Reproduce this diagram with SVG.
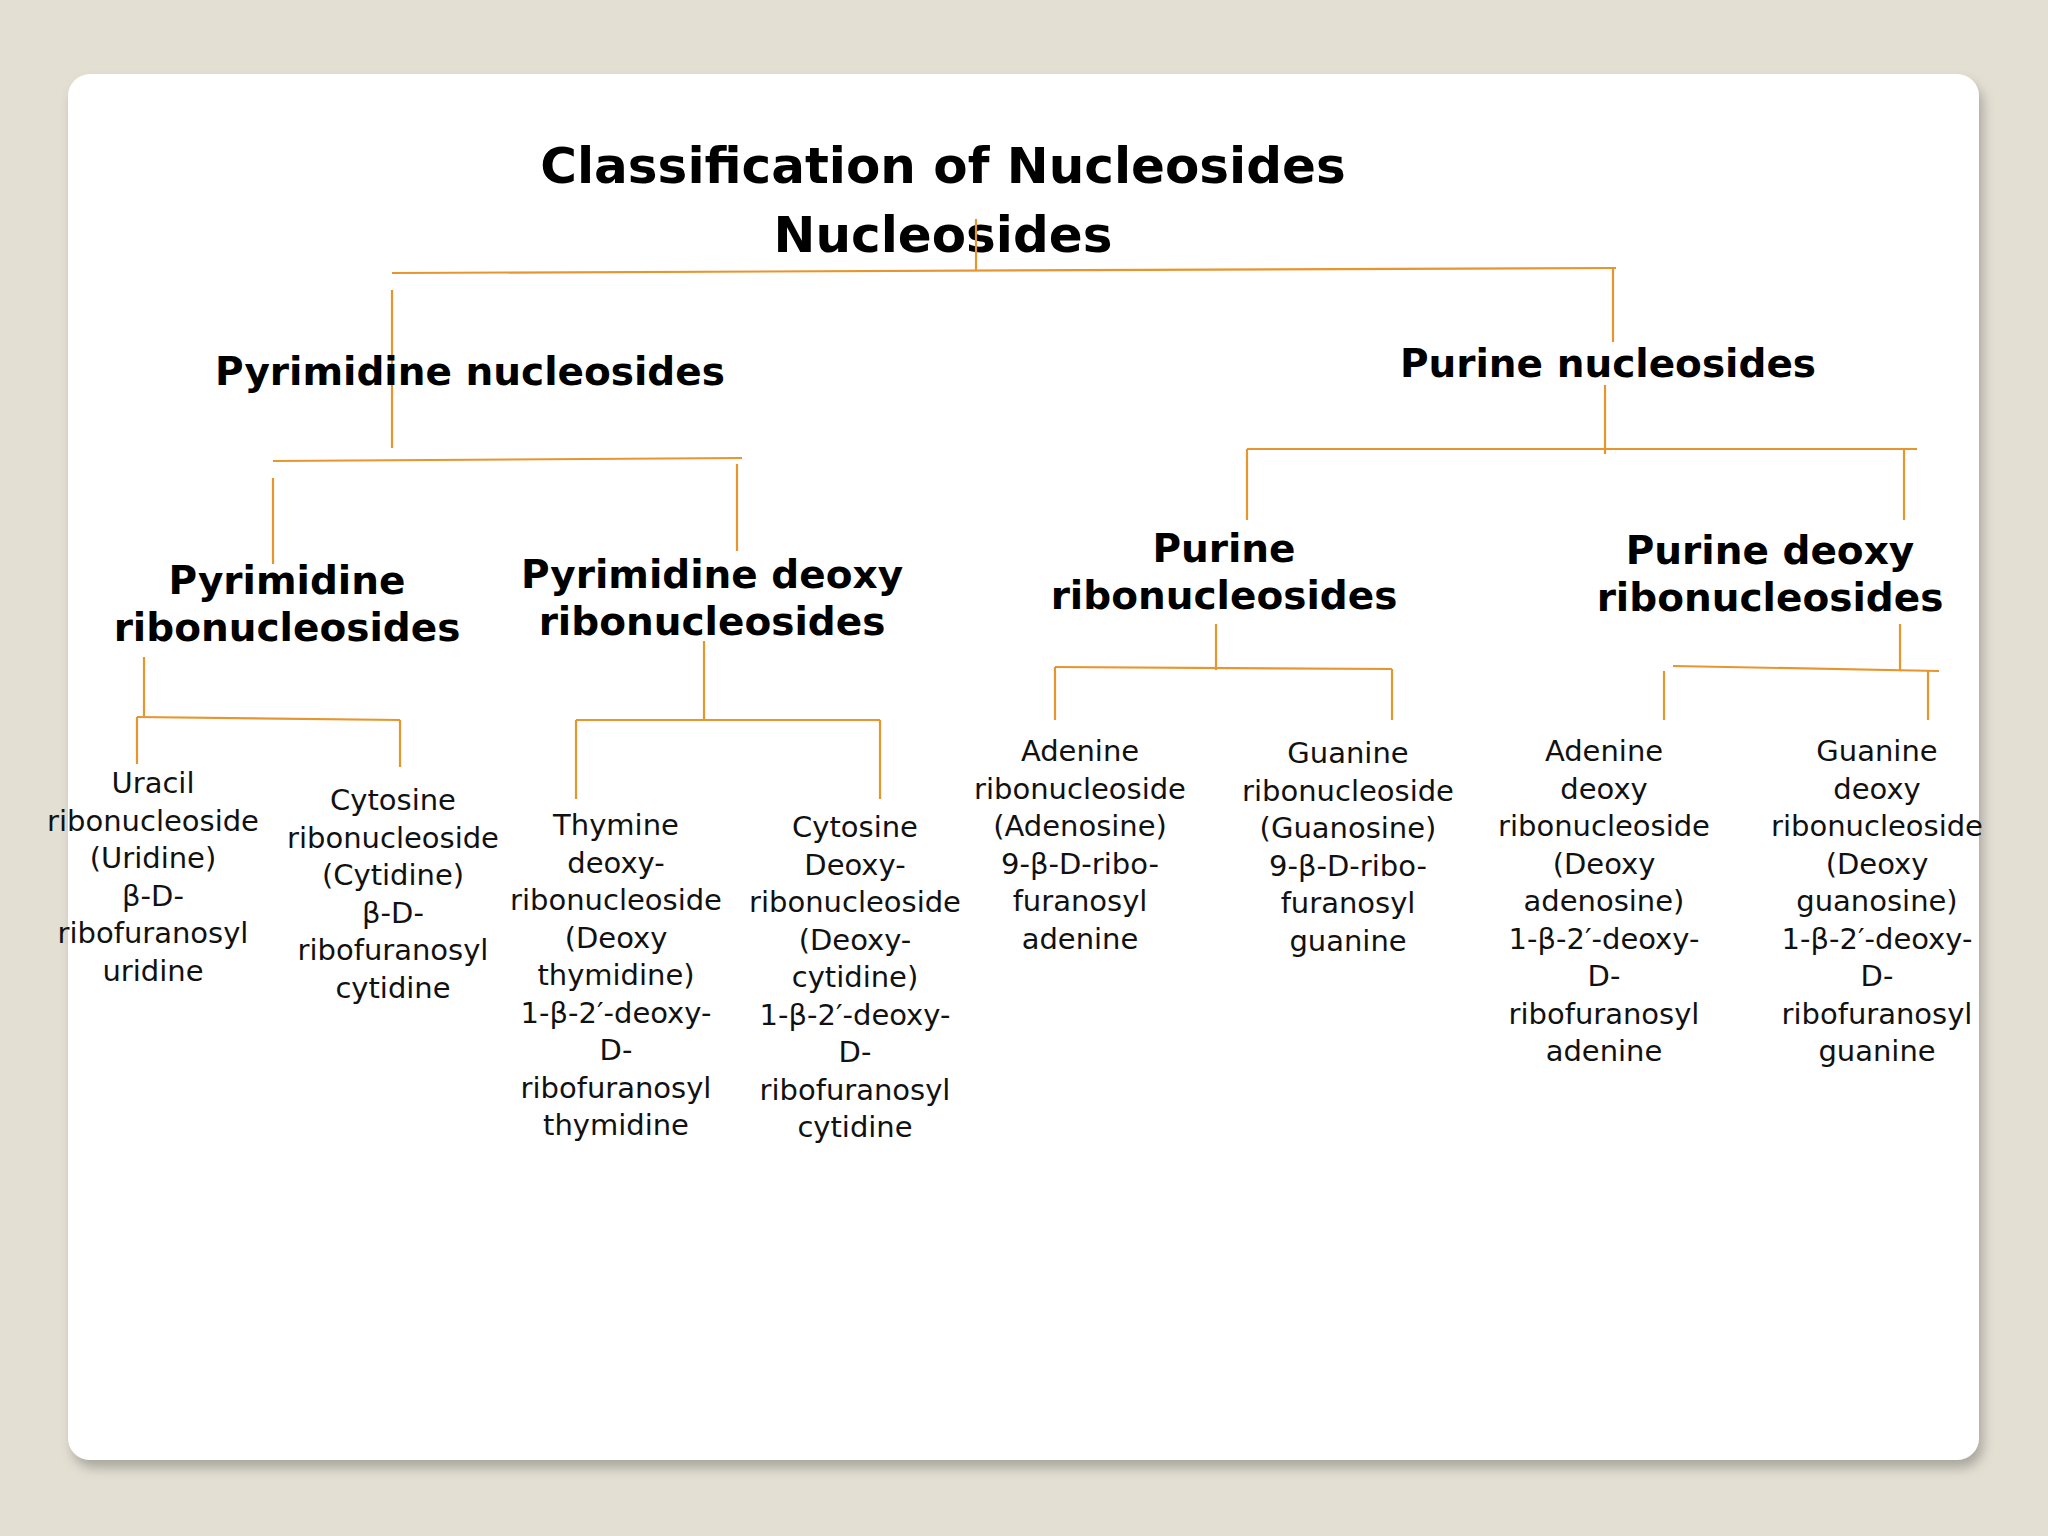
<svg xmlns="http://www.w3.org/2000/svg" width="2048" height="1536" viewBox="0 0 2048 1536">
<defs>
<style>
.t{font-family:"DejaVu Sans",Verdana,sans-serif;font-weight:bold;font-size:50px;fill:#000;text-anchor:middle}
.h{font-family:"DejaVu Sans",Verdana,sans-serif;font-weight:bold;font-size:39px;fill:#000;text-anchor:middle}
.l{font-family:"DejaVu Sans",Verdana,sans-serif;font-size:29px;fill:#111;text-anchor:middle}
.c line{stroke:#E8952E;stroke-width:2.2}
</style>
<filter id="sh" x="-5%" y="-5%" width="110%" height="110%"><feDropShadow dx="4" dy="8" stdDeviation="6" flood-color="#000" flood-opacity="0.25"/></filter>
</defs>
<rect width="2048" height="1536" fill="#E3DFD3"/>
<rect x="68" y="74" width="1911" height="1386" rx="22" fill="#fff" filter="url(#sh)"/>
<g id="title"><text class="t" x="943" y="183">Classification of Nucleosides</text></g>
<g id="root"><text class="t" x="943" y="252">Nucleosides</text></g>
<g class="c" id="connectors">
<line x1="976" y1="219" x2="976" y2="271"/>
<line x1="392" y1="273" x2="1616" y2="268"/>
<line x1="392" y1="290" x2="392" y2="448"/>
<line x1="1613" y1="268" x2="1613" y2="342"/>
<line x1="273" y1="461" x2="742" y2="458"/>
<line x1="273" y1="478" x2="273" y2="564"/>
<line x1="737" y1="464" x2="737" y2="551"/>
<line x1="1605" y1="385" x2="1605" y2="454"/>
<line x1="1247" y1="449" x2="1917" y2="449"/>
<line x1="1247" y1="449" x2="1247" y2="520"/>
<line x1="1904" y1="449" x2="1904" y2="520"/>
<line x1="144" y1="657" x2="144" y2="716"/>
<line x1="137" y1="717" x2="400" y2="720"/>
<line x1="137" y1="717" x2="137" y2="764"/>
<line x1="400" y1="720" x2="400" y2="767"/>
<line x1="704" y1="641" x2="704" y2="720"/>
<line x1="576" y1="720" x2="880" y2="720"/>
<line x1="576" y1="720" x2="576" y2="799"/>
<line x1="880" y1="720" x2="880" y2="799"/>
<line x1="1216" y1="624" x2="1216" y2="670"/>
<line x1="1055" y1="667" x2="1392" y2="669"/>
<line x1="1055" y1="667" x2="1055" y2="720"/>
<line x1="1392" y1="669" x2="1392" y2="720"/>
<line x1="1900" y1="624" x2="1900" y2="671"/>
<line x1="1673" y1="666" x2="1939" y2="671"/>
<line x1="1664" y1="671" x2="1664" y2="720"/>
<line x1="1928" y1="671" x2="1928" y2="720"/>
</g>
<g id="pyr"><text class="h" x="470" y="385">Pyrimidine nucleosides</text></g>
<g id="pur"><text class="h" x="1608" y="377">Purine nucleosides</text></g>
<g id="pyrribo"><text class="h" x="287" y="594">Pyrimidine</text><text class="h" x="287" y="641">ribonucleosides</text></g>
<g id="pyrdeoxy"><text class="h" x="712" y="588">Pyrimidine deoxy</text><text class="h" x="712" y="635">ribonucleosides</text></g>
<g id="purribo"><text class="h" x="1224" y="562">Purine</text><text class="h" x="1224" y="609">ribonucleosides</text></g>
<g id="purdeoxy"><text class="h" x="1770" y="564">Purine deoxy</text><text class="h" x="1770" y="611">ribonucleosides</text></g>
<g id="uridine"><text class="l" x="153" y="793"><tspan x="153">Uracil</tspan><tspan x="153" dy="37.5">ribonucleoside</tspan><tspan x="153" dy="37.5">(Uridine)</tspan><tspan x="153" dy="37.5">β-D-</tspan><tspan x="153" dy="37.5">ribofuranosyl</tspan><tspan x="153" dy="37.5">uridine</tspan></text></g>
<g id="cytidine"><text class="l" x="393" y="810"><tspan x="393">Cytosine</tspan><tspan x="393" dy="37.5">ribonucleoside</tspan><tspan x="393" dy="37.5">(Cytidine)</tspan><tspan x="393" dy="37.5">β-D-</tspan><tspan x="393" dy="37.5">ribofuranosyl</tspan><tspan x="393" dy="37.5">cytidine</tspan></text></g>
<g id="thymidine"><text class="l" x="616" y="835"><tspan x="616">Thymine</tspan><tspan x="616" dy="37.5">deoxy-</tspan><tspan x="616" dy="37.5">ribonucleoside</tspan><tspan x="616" dy="37.5">(Deoxy</tspan><tspan x="616" dy="37.5">thymidine)</tspan><tspan x="616" dy="37.5">1-β-2′-deoxy-</tspan><tspan x="616" dy="37.5">D-</tspan><tspan x="616" dy="37.5">ribofuranosyl</tspan><tspan x="616" dy="37.5">thymidine</tspan></text></g>
<g id="dcytidine"><text class="l" x="855" y="837"><tspan x="855">Cytosine</tspan><tspan x="855" dy="37.5">Deoxy-</tspan><tspan x="855" dy="37.5">ribonucleoside</tspan><tspan x="855" dy="37.5">(Deoxy-</tspan><tspan x="855" dy="37.5">cytidine)</tspan><tspan x="855" dy="37.5">1-β-2′-deoxy-</tspan><tspan x="855" dy="37.5">D-</tspan><tspan x="855" dy="37.5">ribofuranosyl</tspan><tspan x="855" dy="37.5">cytidine</tspan></text></g>
<g id="adenosine"><text class="l" x="1080" y="761"><tspan x="1080">Adenine</tspan><tspan x="1080" dy="37.5">ribonucleoside</tspan><tspan x="1080" dy="37.5">(Adenosine)</tspan><tspan x="1080" dy="37.5">9-β-D-ribo-</tspan><tspan x="1080" dy="37.5">furanosyl</tspan><tspan x="1080" dy="37.5">adenine</tspan></text></g>
<g id="guanosine"><text class="l" x="1348" y="763"><tspan x="1348">Guanine</tspan><tspan x="1348" dy="37.5">ribonucleoside</tspan><tspan x="1348" dy="37.5">(Guanosine)</tspan><tspan x="1348" dy="37.5">9-β-D-ribo-</tspan><tspan x="1348" dy="37.5">furanosyl</tspan><tspan x="1348" dy="37.5">guanine</tspan></text></g>
<g id="dadenosine"><text class="l" x="1604" y="761"><tspan x="1604">Adenine</tspan><tspan x="1604" dy="37.5">deoxy</tspan><tspan x="1604" dy="37.5">ribonucleoside</tspan><tspan x="1604" dy="37.5">(Deoxy</tspan><tspan x="1604" dy="37.5">adenosine)</tspan><tspan x="1604" dy="37.5">1-β-2′-deoxy-</tspan><tspan x="1604" dy="37.5">D-</tspan><tspan x="1604" dy="37.5">ribofuranosyl</tspan><tspan x="1604" dy="37.5">adenine</tspan></text></g>
<g id="dguanosine"><text class="l" x="1877" y="761"><tspan x="1877">Guanine</tspan><tspan x="1877" dy="37.5">deoxy</tspan><tspan x="1877" dy="37.5">ribonucleoside</tspan><tspan x="1877" dy="37.5">(Deoxy</tspan><tspan x="1877" dy="37.5">guanosine)</tspan><tspan x="1877" dy="37.5">1-β-2′-deoxy-</tspan><tspan x="1877" dy="37.5">D-</tspan><tspan x="1877" dy="37.5">ribofuranosyl</tspan><tspan x="1877" dy="37.5">guanine</tspan></text></g>
</svg>
